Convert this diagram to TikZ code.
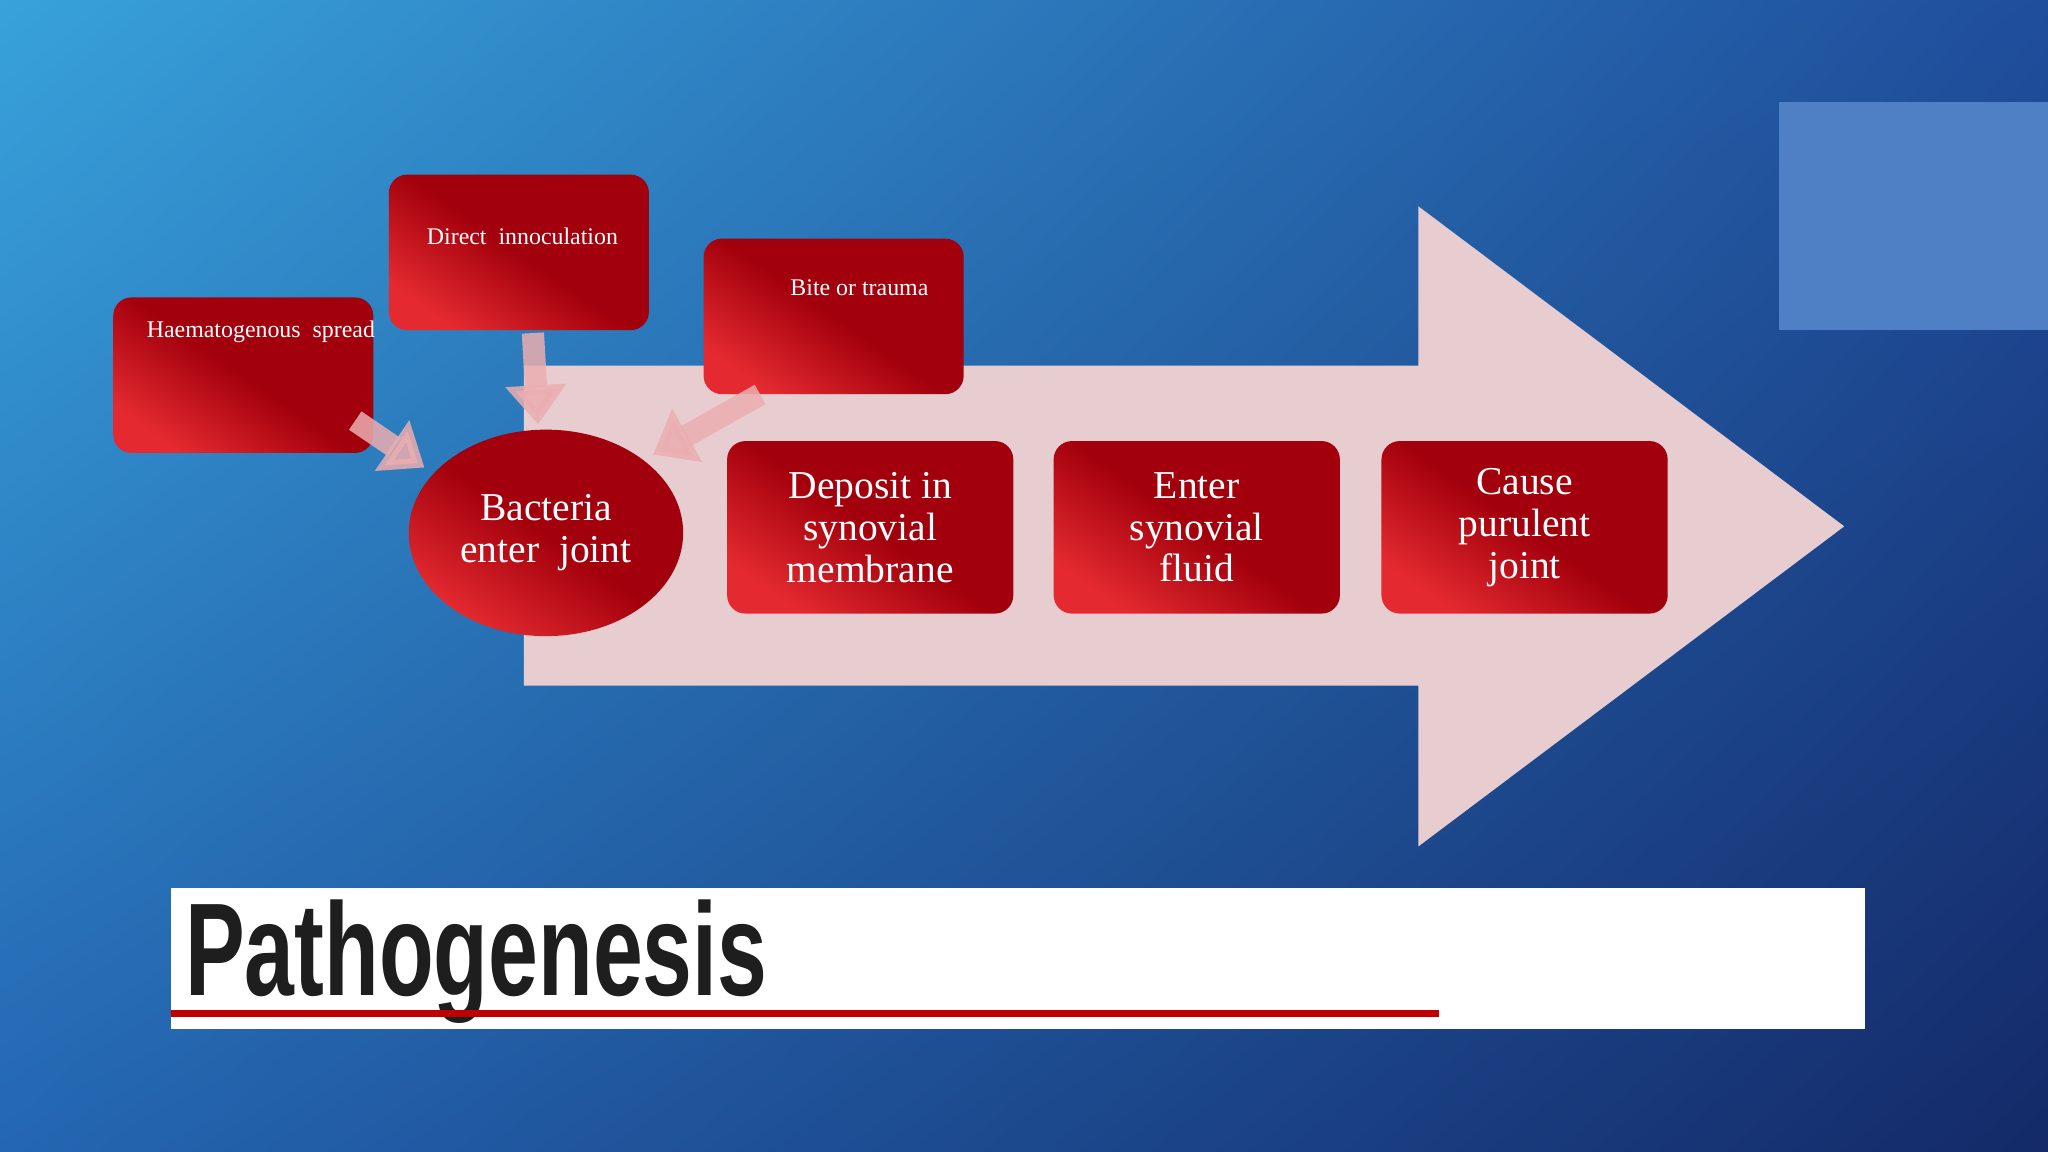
\documentclass[tikz,border=0pt]{standalone}
\usepackage{fontspec}
\setmainfont{Liberation Serif}
\newfontfamily\titlefont{Liberation Sans}
\usetikzlibrary{arrows.meta,shadings,shapes.geometric}
\definecolor{bgA}{HTML}{38A2DA}
\definecolor{bgB}{HTML}{1F4E9C}
\definecolor{bgC}{HTML}{2466B2}
\definecolor{bgD}{HTML}{142A68}
\definecolor{sq}{HTML}{4F80C6}
\definecolor{pinkA}{HTML}{E8CDD0}
\definecolor{redL}{HTML}{E42A30}
\definecolor{redD}{HTML}{A2000C}
\definecolor{lineRed}{HTML}{C00000}
\definecolor{titleK}{HTML}{1E1E1E}
\tikzset{
  redbox/.style={rounded corners=0.14cm, top color=redD, bottom color=redL, middle color=redD, shading angle=-35, draw=none},
  feeder/.style={redbox, minimum width=1.99cm, minimum height=1.19cm, text=white, font=\fontsize{5.2pt}{6pt}\selectfont, anchor=north west, inner sep=0pt},
  stepbox/.style={redbox, minimum width=2.19cm, minimum height=1.32cm, text=white, align=center, font=\fontsize{8.6pt}{9.1pt}\selectfont, anchor=north west, inner sep=0pt},
  feedarrow/.style={draw=pinkA!85!red, opacity=0.85, line width=0.17cm, -{Triangle[width=0.45cm,length=0.3cm]}}
}
\begin{document}
\begin{tikzpicture}[x=0.01cm,y=-0.01cm]
\useasboundingbox (0,0) rectangle (1568,882);
\shade[upper left=bgA, upper right=bgB, lower left=bgC, lower right=bgD] (0,0) rectangle (1568,882);
\fill[sq] (1362,78) rectangle (1568,253);
% big arrow
\fill[pinkA] (401,280) -- (1086,280) -- (1086,158) -- (1412,403) -- (1086,648) -- (1086,525) -- (401,525) -- cycle;
% feeder boxes
\node[feeder] (haem) at (86,227) {};
\node[text=white, font=\fontsize{5.2pt}{6pt}\selectfont, anchor=west] at (100,254) {Haematogenous\ \ spread};
\node[feeder] (direct) at (297,133) {};
\node[text=white, font=\fontsize{5.2pt}{6pt}\selectfont] at (400,181) {Direct\ \ innoculation};
\node[feeder] (bite) at (538,182) {};
\node[text=white, font=\fontsize{5.2pt}{6pt}\selectfont] at (658,220) {Bite or trauma};
% ellipse
\node[ellipse, minimum width=2.1cm, minimum height=1.58cm, top color=redD, bottom color=redL, middle color=redD, shading angle=-35, text=white, align=center, font=\fontsize{8.6pt}{9.1pt}\selectfont, inner sep=0pt] (bact) at (418,408) {Bacteria\\enter\ \ joint};
% feeder arrows
\coordinate (h1) at (272,322); \coordinate (h2) at (325,358);
\coordinate (d1) at (408,255); \coordinate (d2) at (412,325);
\coordinate (b1) at (582,302); \coordinate (b2) at (500,348);
\draw[feedarrow] (h1) -- (h2);
\draw[feedarrow] (d1) -- (d2);
\draw[feedarrow] (b1) -- (b2);
% steps
\node[stepbox] (dep) at (556,337) {Deposit in\\synovial\\membrane};
\node[stepbox] (ent) at (806,337) {Enter\\synovial\\fluid};
\node[stepbox] (cau) at (1057,337) {Cause\\purulent\\joint};
% title
\fill[white] (131,680) rectangle (1428,788);
\node[anchor=west, text=titleK, inner sep=0pt] (title) at (141,736) {\scalebox{0.78}[1.15]{\titlefont\bfseries\fontsize{25pt}{28pt}\selectfont Pathogenesis}};
\fill[lineRed] (131,773) rectangle (1102,779);
\end{tikzpicture}
\end{document}
